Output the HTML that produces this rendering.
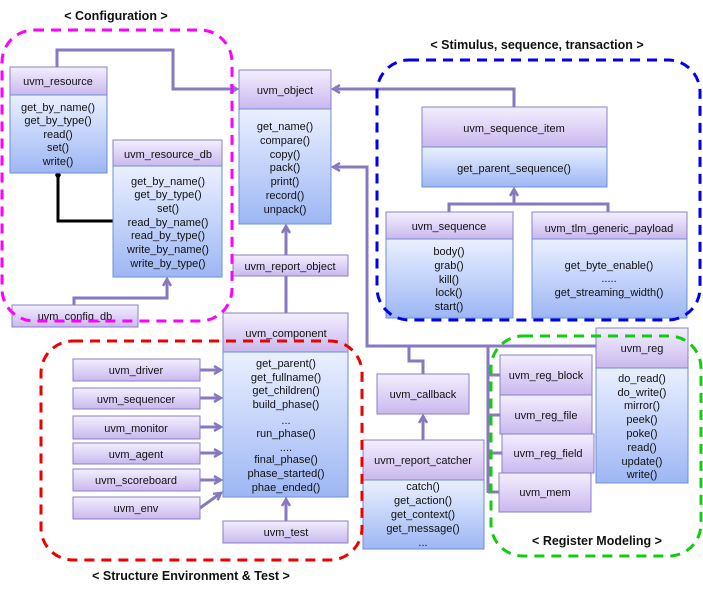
<!DOCTYPE html>
<html><head><meta charset="utf-8"><style>
html,body{margin:0;padding:0;background:#fff;width:703px;height:591px;overflow:hidden}
svg{display:block;font-family:"Liberation Sans",Arial,sans-serif}
.t{font-size:11px;fill:#111;text-anchor:middle}
.h{font-size:12.5px;font-weight:bold;fill:#111;text-anchor:middle}
.ln{stroke:#8878c0;stroke-width:3;fill:none}
.hd{fill:url(#gh);stroke:#8a80c4;stroke-width:1}
.bd{fill:url(#gb);stroke:#6f8fd0;stroke-width:1}
</style></head><body>
<svg width="703" height="591" viewBox="0 0 703 591" xmlns="http://www.w3.org/2000/svg">
<defs>
<linearGradient id="gh" x1="0" y1="0" x2="0" y2="1"><stop offset="0" stop-color="#f4efff"/><stop offset="1" stop-color="#c9b8ee"/></linearGradient>
<linearGradient id="gb" x1="0" y1="0" x2="0" y2="1"><stop offset="0" stop-color="#eaf0ff"/><stop offset="1" stop-color="#9db6f4"/></linearGradient>
<marker id="ar" markerWidth="10" markerHeight="10" refX="8" refY="5" orient="auto" markerUnits="userSpaceOnUse"><path d="M1,1 L8,5 L1,9" fill="none" stroke="#8878c0" stroke-width="2.5"/></marker>
</defs>

<!-- connectors -->
<path class="ln" d="M57,67 V50 H173 V89 H237" marker-end="url(#ar)"/>
<path d="M58,173 V221 H113" stroke="#000" stroke-width="3" fill="none"/>
<path d="M58,170 L61,175 L58,180 L55,175Z" fill="#000"/>
<path class="ln" d="M74,305 V298 H167 V279" marker-end="url(#ar)"/>
<path class="ln" d="M514,107 V89 H333" marker-end="url(#ar)"/>
<path class="ln" d="M596,346 H367 V167 H333" marker-end="url(#ar)"/>
<path class="ln" d="M286,255 V226" marker-end="url(#ar)"/>
<path class="ln" d="M286,313 V276"/>
<path class="ln" d="M449,212 V204 H608 V212 M514,204 V189" marker-end="url(#ar)"/>
<path class="ln" d="M409,346 V361 H423 V374"/>
<path class="ln" d="M423,440 V416" marker-end="url(#ar)"/>
<path class="ln" d="M488,346 V493 M488,375 H500 M488,415 H500 M488,453 H502 M488,492 H499"/>
<path class="ln" d="M200,370 H221" marker-end="url(#ar)"/>
<path class="ln" d="M200,398 H221" marker-end="url(#ar)"/>
<path class="ln" d="M200,427 H221" marker-end="url(#ar)"/>
<path class="ln" d="M200,453 H221" marker-end="url(#ar)"/>
<path class="ln" d="M200,480 H221" marker-end="url(#ar)"/>
<path class="ln" d="M200,508 L221,493" marker-end="url(#ar)"/>
<path class="ln" d="M286,521 V499" marker-end="url(#ar)"/>

<!-- uvm_resource -->
<rect class="hd" x="10" y="67" width="97" height="28"/><rect class="bd" x="10" y="95" width="97" height="78"/>
<text class="t" x="58" y="85">uvm_resource</text>
<text class="t" x="58" y="111">get_by_name()</text><text class="t" x="58" y="124">get_by_type()</text><text class="t" x="58" y="138">read()</text><text class="t" x="58" y="151">set()</text><text class="t" x="58" y="165">write()</text>

<!-- uvm_resource_db -->
<rect class="hd" x="113" y="140" width="109" height="26"/><rect class="bd" x="113" y="166" width="109" height="111"/>
<text class="t" x="168" y="158">uvm_resource_db</text>
<text class="t" x="168" y="185">get_by_name()</text><text class="t" x="168" y="198">get_by_type()</text><text class="t" x="168" y="212">set()</text><text class="t" x="168" y="226">read_by_name()</text><text class="t" x="168" y="239">read_by_type()</text><text class="t" x="168" y="253">write_by_name()</text><text class="t" x="168" y="267">write_by_type()</text>

<rect class="hd" x="12" y="305" width="126" height="22"/><text class="t" x="75" y="320">uvm_config_db</text>

<!-- uvm_object -->
<rect class="hd" x="239" y="70" width="92" height="39"/><rect class="bd" x="239" y="109" width="92" height="115"/>
<text class="t" x="285" y="94">uvm_object</text>
<text class="t" x="285" y="130">get_name()</text><text class="t" x="285" y="144">compare()</text><text class="t" x="285" y="158">copy()</text><text class="t" x="285" y="171">pack()</text><text class="t" x="285" y="185">print()</text><text class="t" x="285" y="199">record()</text><text class="t" x="285" y="213">unpack()</text>

<rect class="hd" x="233" y="255" width="115" height="21"/><text class="t" x="290" y="270">uvm_report_object</text>

<!-- uvm_component -->
<rect class="hd" x="223" y="313" width="125" height="39"/><rect class="bd" x="223" y="352" width="125" height="145"/>
<text class="t" x="286" y="337">uvm_component</text>
<text class="t" x="286" y="367">get_parent()</text><text class="t" x="286" y="381">get_fullname()</text><text class="t" x="286" y="394">get_children()</text><text class="t" x="286" y="408">build_phase()</text><text class="t" x="286" y="424">...</text><text class="t" x="286" y="437">run_phase()</text><text class="t" x="286" y="451">....</text><text class="t" x="286" y="463">final_phase()</text><text class="t" x="286" y="477">phase_started()</text><text class="t" x="286" y="491">phae_ended()</text>

<rect class="hd" x="73" y="359" width="127" height="22"/><text class="t" x="136" y="374">uvm_driver</text>
<rect class="hd" x="73" y="388" width="127" height="21"/><text class="t" x="136" y="403">uvm_sequencer</text>
<rect class="hd" x="73" y="416" width="127" height="23"/><text class="t" x="136" y="432">uvm_monitor</text>
<rect class="hd" x="73" y="443" width="127" height="21"/><text class="t" x="136" y="458">uvm_agent</text>
<rect class="hd" x="73" y="469" width="127" height="22"/><text class="t" x="136" y="484">uvm_scoreboard</text>
<rect class="hd" x="73" y="497" width="127" height="22"/><text class="t" x="136" y="512">uvm_env</text>
<rect class="hd" x="223" y="521" width="125" height="22"/><text class="t" x="286" y="536">uvm_test</text>

<!-- sequence item -->
<rect class="hd" x="422" y="107" width="185" height="40"/><rect class="bd" x="422" y="147" width="185" height="40"/>
<text class="t" x="514" y="132">uvm_sequence_item</text><text class="t" x="514" y="172">get_parent_sequence()</text>
<rect class="hd" x="386" y="212" width="127" height="27"/><rect class="bd" x="386" y="239" width="127" height="79"/>
<text class="t" x="449" y="230">uvm_sequence</text>
<text class="t" x="449" y="255">body()</text><text class="t" x="449" y="269">grab()</text><text class="t" x="449" y="283">kill()</text><text class="t" x="449" y="296">lock()</text><text class="t" x="449" y="310">start()</text>
<rect class="hd" x="532" y="212" width="155" height="27"/><rect class="bd" x="532" y="239" width="155" height="79"/>
<text class="t" x="609" y="232">uvm_tlm_generic_payload</text>
<text class="t" x="609" y="269">get_byte_enable()</text><text class="t" x="609" y="282">.....</text><text class="t" x="609" y="296">get_streaming_width()</text>

<!-- callback -->
<rect class="hd" x="377" y="374" width="92" height="40"/><text class="t" x="423" y="398">uvm_callback</text>
<rect class="hd" x="363" y="440" width="121" height="40"/><rect class="bd" x="363" y="480" width="121" height="69"/>
<text class="t" x="423" y="464">uvm_report_catcher</text>
<text class="t" x="423" y="490">catch()</text><text class="t" x="423" y="504">get_action()</text><text class="t" x="423" y="518">get_context()</text><text class="t" x="423" y="532">get_message()</text><text class="t" x="423" y="546">...</text>

<!-- register -->
<rect class="hd" x="596" y="328" width="92" height="40"/><rect class="bd" x="596" y="368" width="92" height="115"/>
<text class="t" x="642" y="352">uvm_reg</text>
<text class="t" x="642" y="382">do_read()</text><text class="t" x="642" y="396">do_write()</text><text class="t" x="642" y="409">mirror()</text><text class="t" x="642" y="423">peek()</text><text class="t" x="642" y="437">poke()</text><text class="t" x="642" y="451">read()</text><text class="t" x="642" y="465">update()</text><text class="t" x="642" y="478">write()</text>
<rect class="hd" x="500" y="355" width="92" height="40"/><text class="t" x="546" y="379">uvm_reg_block</text>
<rect class="hd" x="500" y="395" width="92" height="39"/><text class="t" x="546" y="419">uvm_reg_file</text>
<rect class="hd" x="502" y="434" width="92" height="39"/><text class="t" x="548" y="457">uvm_reg_field</text>
<rect class="hd" x="499" y="473" width="92" height="39"/><text class="t" x="545" y="496">uvm_mem</text>

<!-- groups -->
<rect x="2" y="30" width="230" height="291" rx="32" fill="none" stroke="#ff00ff" stroke-width="3" stroke-dasharray="10,7"/>
<rect x="377" y="60" width="323" height="260" rx="32" fill="none" stroke="#0000ee" stroke-width="3" stroke-dasharray="10,7"/>
<rect x="41" y="341" width="321" height="219" rx="32" fill="none" stroke="#ee0000" stroke-width="3" stroke-dasharray="10,7"/>
<rect x="491" y="336" width="210" height="220" rx="32" fill="none" stroke="#11cc11" stroke-width="3" stroke-dasharray="10,7"/>

<text class="h" x="116" y="20">&lt; Configuration &gt;</text>
<text class="h" x="537" y="49">&lt; Stimulus, sequence, transaction &gt;</text>
<text class="h" x="191" y="580">&lt; Structure Environment &amp; Test &gt;</text>
<text class="h" x="597" y="545">&lt; Register Modeling &gt;</text>
</svg>
</body></html>
